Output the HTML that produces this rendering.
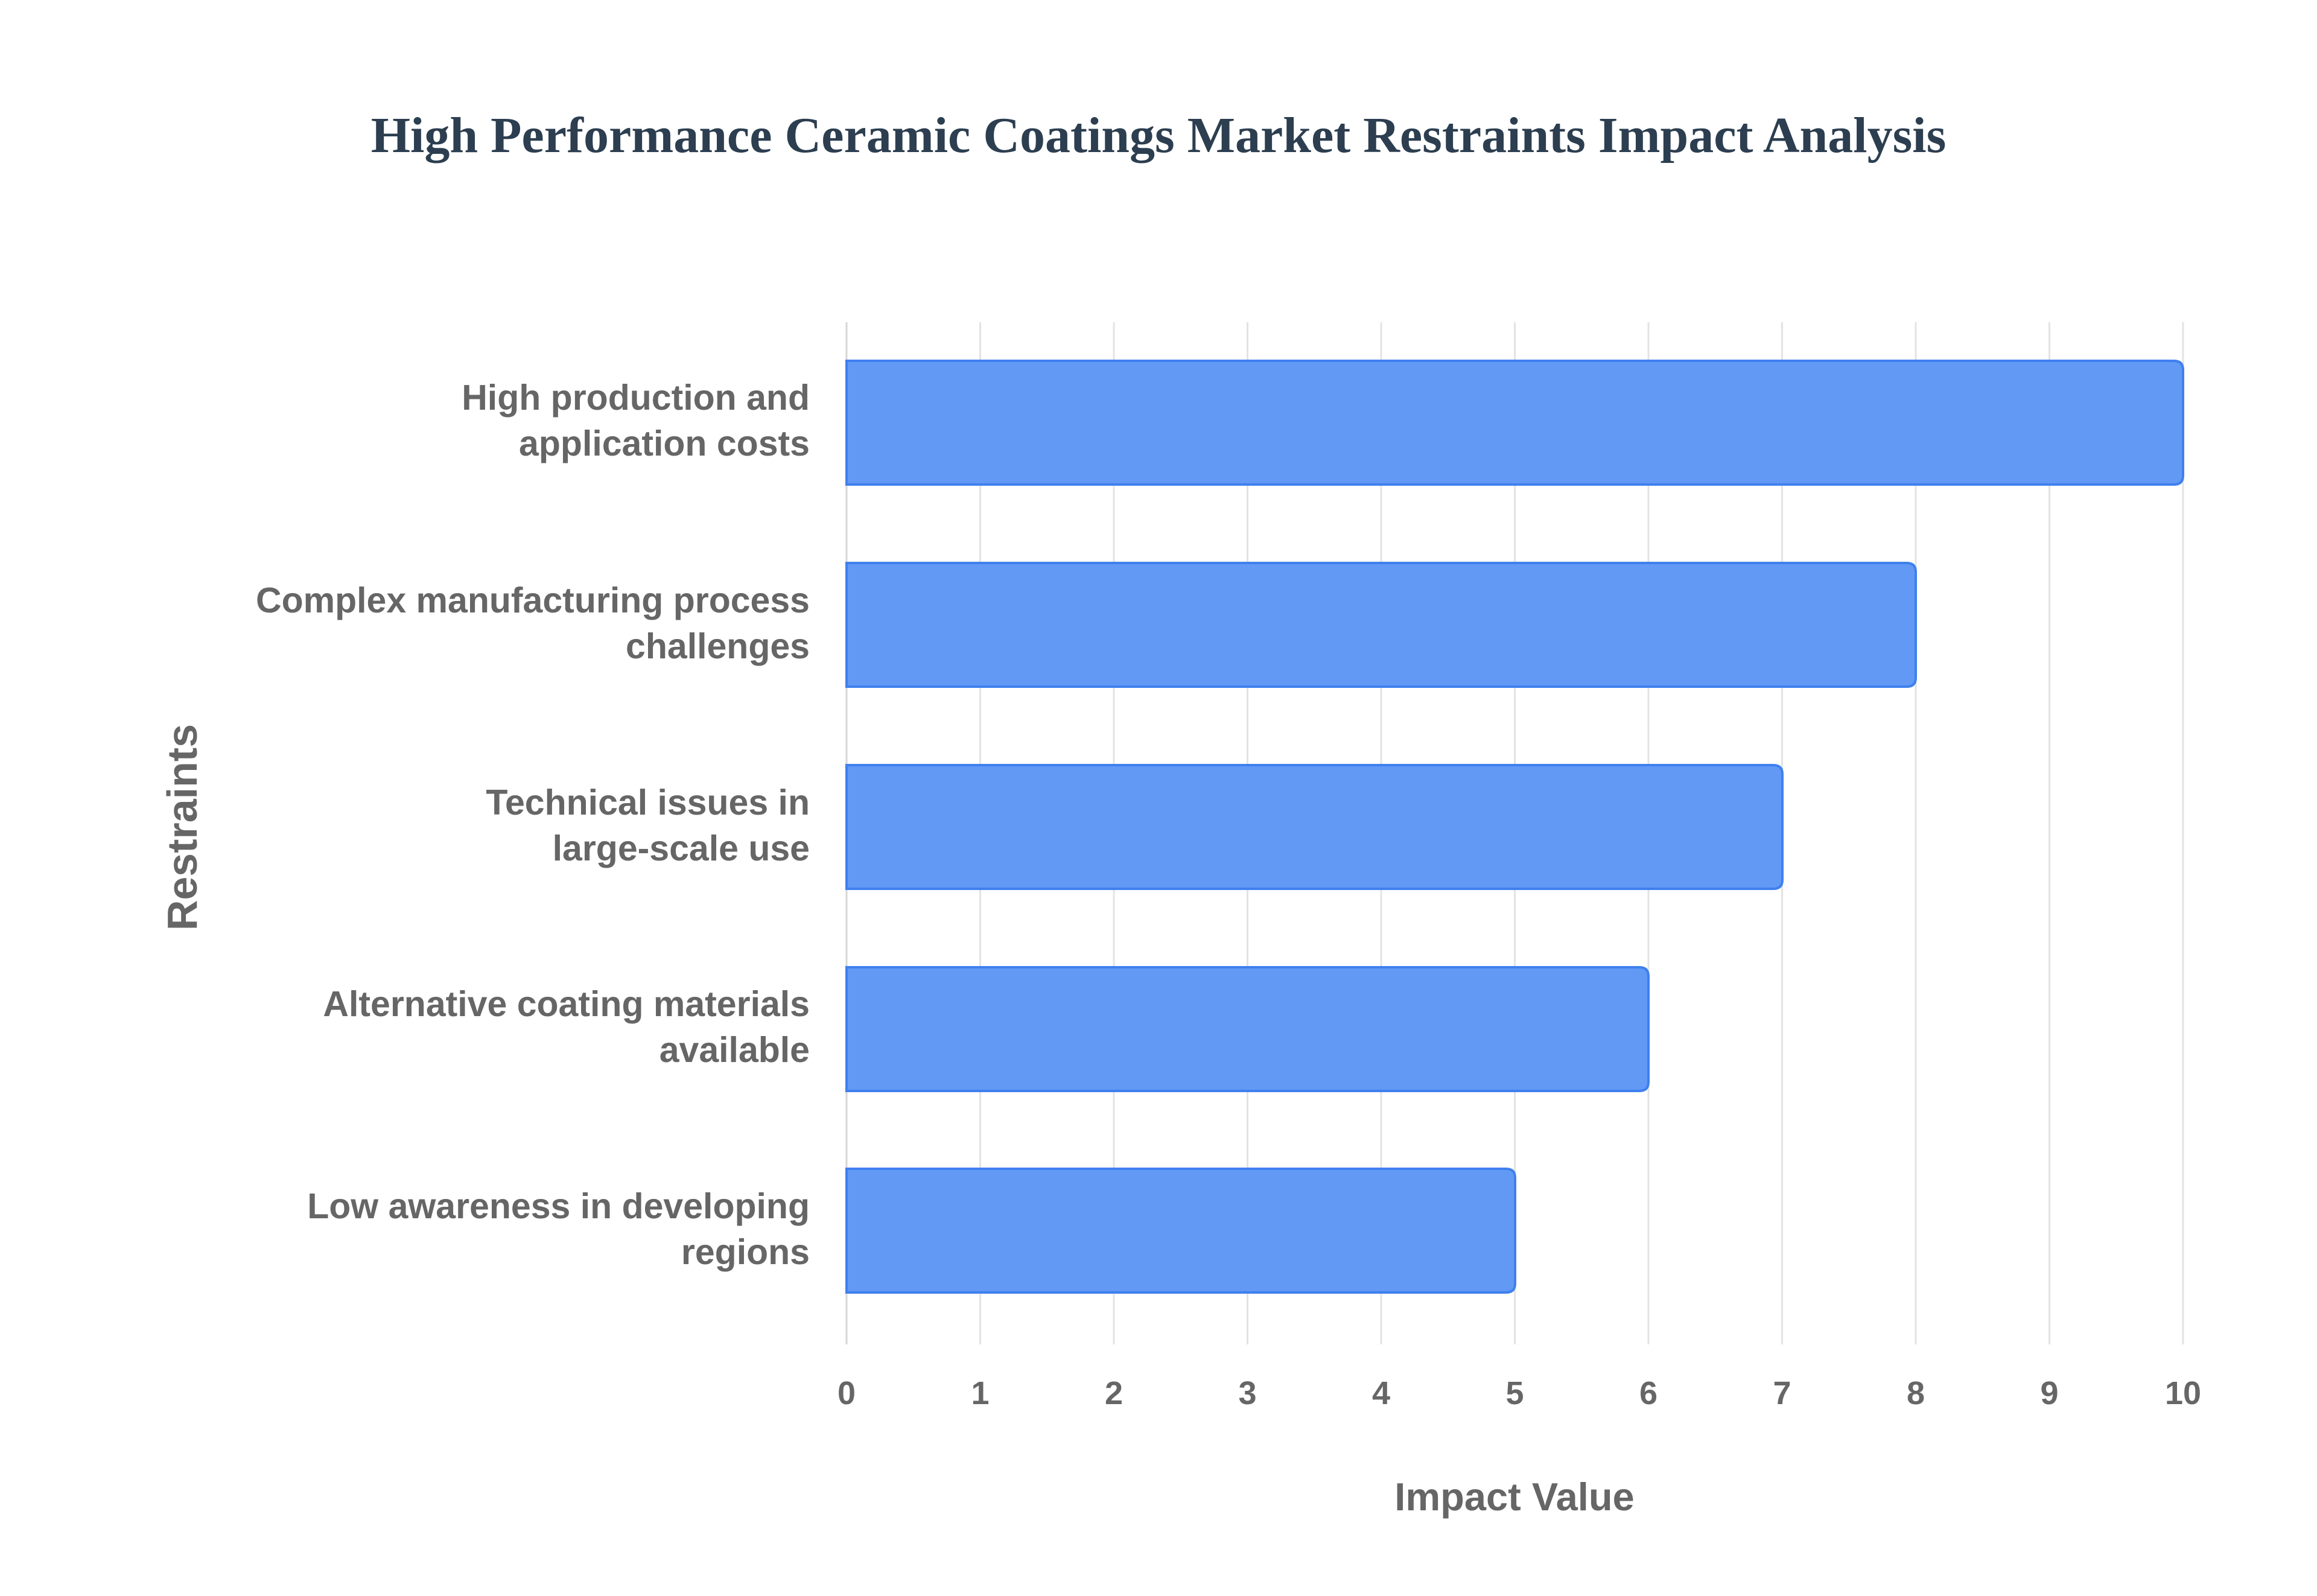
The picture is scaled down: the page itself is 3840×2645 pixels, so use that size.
<!DOCTYPE html>
<html><head><style>body{margin:0;background:#fff}</style></head><body>
<svg width="3840" height="2640" xmlns="http://www.w3.org/2000/svg" font-family="Liberation Sans, sans-serif">
<rect width="3840" height="2640" fill="#fff"/>
<text x="1920" y="252" text-anchor="middle" font-family="Liberation Serif, serif" font-weight="bold" font-size="84" fill="#2c3e50">High Performance Ceramic Coatings Market Restraints Impact Analysis</text>
<g stroke="#e3e3e3" stroke-width="3">
<line x1="1403" y1="534" x2="1403" y2="2228" stroke="#d6d6d6"/>
<line x1="1624.5" y1="534" x2="1624.5" y2="2228"/>
<line x1="1846" y1="534" x2="1846" y2="2228"/>
<line x1="2067.5" y1="534" x2="2067.5" y2="2228"/>
<line x1="2289" y1="534" x2="2289" y2="2228"/>
<line x1="2510.5" y1="534" x2="2510.5" y2="2228"/>
<line x1="2732" y1="534" x2="2732" y2="2228"/>
<line x1="2953.5" y1="534" x2="2953.5" y2="2228"/>
<line x1="3175" y1="534" x2="3175" y2="2228"/>
<line x1="3396.5" y1="534" x2="3396.5" y2="2228"/>
<line x1="3618" y1="534" x2="3618" y2="2228"/>
</g>
<g fill="#6199f5" stroke="#3f80ee" stroke-width="4">
<path d="M1403 598 H3603 Q3618 598 3618 613 V788 Q3618 803 3603 803 H1403 Z"/>
<path d="M1403 933 H3160 Q3175 933 3175 948 V1123 Q3175 1138 3160 1138 H1403 Z"/>
<path d="M1403 1268 H2939 Q2954 1268 2954 1283 V1458 Q2954 1473 2939 1473 H1403 Z"/>
<path d="M1403 1603 H2717 Q2732 1603 2732 1618 V1793 Q2732 1808 2717 1808 H1403 Z"/>
<path d="M1403 1937 H2496 Q2511 1937 2511 1952 V2127 Q2511 2142 2496 2142 H1403 Z"/>
</g>
<g font-weight="bold" font-size="59" fill="#666" text-anchor="end">
<text x="1342" y="679">High production and</text><text x="1342" y="755">application costs</text>
<text x="1342" y="1015">Complex manufacturing process</text><text x="1342" y="1091">challenges</text>
<text x="1342" y="1350">Technical issues in</text><text x="1342" y="1426">large-scale use</text>
<text x="1342" y="1684">Alternative coating materials</text><text x="1342" y="1760">available</text>
<text x="1342" y="2019">Low awareness in developing</text><text x="1342" y="2095">regions</text>
</g>
<g font-weight="bold" font-size="54" fill="#666" text-anchor="middle">
<text x="1403" y="2327">0</text><text x="1624.5" y="2327">1</text><text x="1846" y="2327">2</text><text x="2067.5" y="2327">3</text><text x="2289" y="2327">4</text><text x="2510.5" y="2327">5</text><text x="2732" y="2327">6</text><text x="2953.5" y="2327">7</text><text x="3175" y="2327">8</text><text x="3396.5" y="2327">9</text><text x="3618" y="2327">10</text>
</g>
<text x="2510" y="2503" text-anchor="middle" font-weight="bold" font-size="65" fill="#666">Impact Value</text>
<text transform="translate(326,1371) rotate(-90)" text-anchor="middle" font-weight="bold" font-size="70" fill="#666">Restraints</text>
</svg>
</body></html>
